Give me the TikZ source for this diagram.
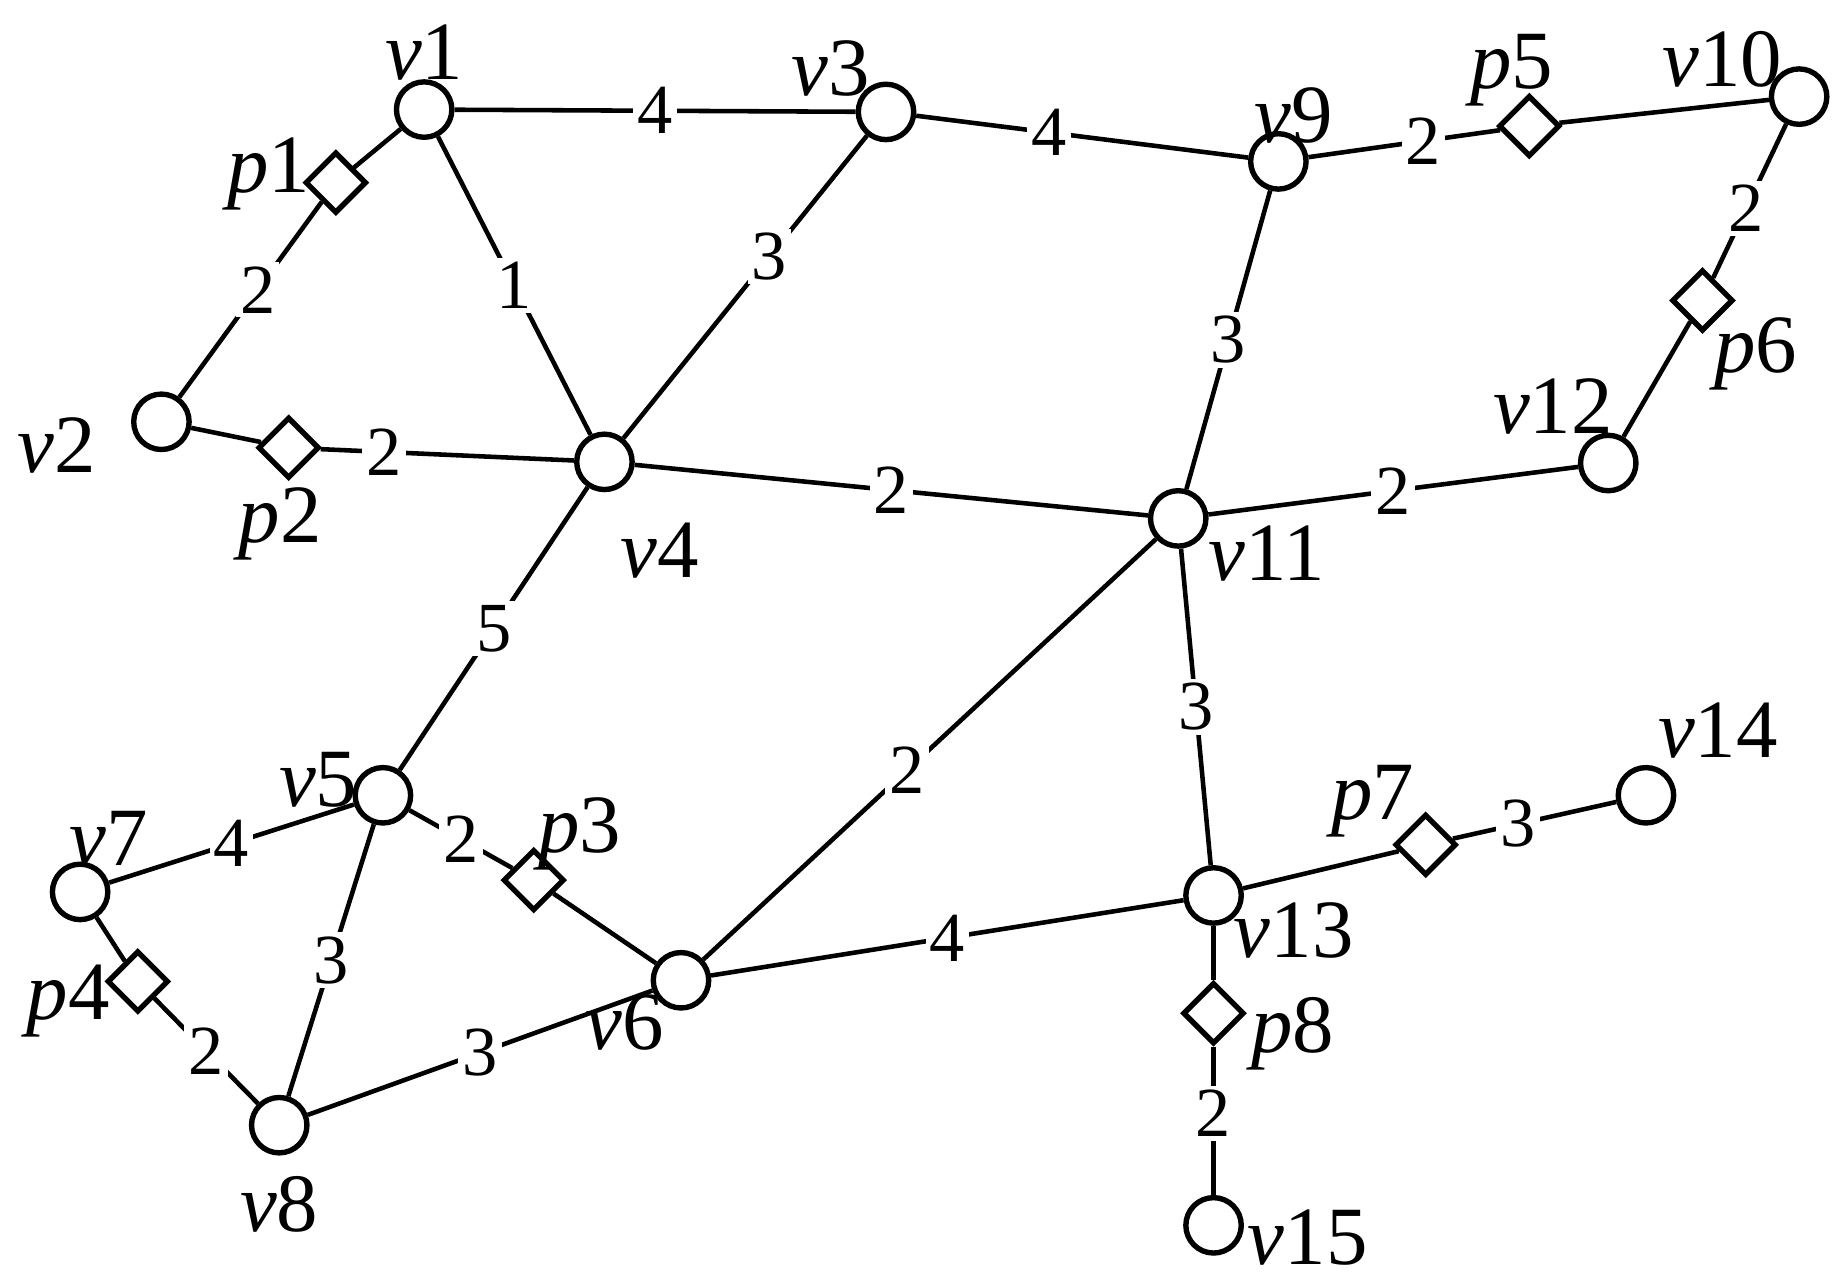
\documentclass[tikz,border=0pt]{standalone}
\usepackage{fontspec}
\setmainfont{Liberation Serif}
\usetikzlibrary{shapes.geometric}
\begin{document}
\begin{tikzpicture}[x=0.01cm,y=-0.01cm,
  vert/.style={circle,draw,line width=1.3pt,minimum size=0.47cm,inner sep=0pt,fill=white},
  pt/.style={diamond,draw,line width=1.3pt,minimum size=0.52cm,inner sep=0pt,fill=white},
  lbl/.style={font=\fontsize{20}{20}\selectfont},
  w/.style={fill=white,inner sep=1pt,font=\fontsize{17}{17}\selectfont},
  every path/.style={line width=1.1pt}]
\useasboundingbox (0,0) rectangle (1560,1085);
\node[vert] (v1) at (360,93) {}; \node[vert] (v3) at (752,95) {};
\node[vert] (v9) at (1085,137) {}; \node[vert] (v10) at (1527,82) {};
\node[pt] (p5) at (1298,107) {}; \node[pt] (p1) at (285,155) {};
\node[vert] (v2) at (137,358) {}; \node[pt] (p2) at (245,380) {};
\node[vert] (v4) at (513,392) {}; \node[vert] (v11) at (1000,440) {};
\node[vert] (v12) at (1365,393) {}; \node[pt] (p6) at (1445,255) {};
\node[vert] (v5) at (325,675) {}; \node[vert] (v7) at (68,757) {};
\node[pt] (p4) at (117,833) {}; \node[vert] (v8) at (237,955) {};
\node[pt] (p3) at (453,747) {}; \node[vert] (v6) at (578,832) {};
\node[vert] (v13) at (1030,760) {}; \node[pt] (p7) at (1210,717) {};
\node[vert] (v14) at (1397,675) {}; \node[pt] (p8) at (1030,860) {};
\node[vert] (v15) at (1030,1040) {};
\draw (v1)--node[w]{4}(v3);
\draw (v3)--node[w,pos=.4]{4}(v9);
\draw (v9)--node[w,pos=.6]{2}(p5); \draw (p5)--(v10);
\draw (v1)--(p1); \draw (p1)--node[w,pos=.45]{2}(v2);
\draw (v1)--node[w]{1}(v4);
\draw (v3)--node[w,pos=.4]{3}(v4);
\draw (v2)--(p2); \draw (p2)--node[w,pos=.25]{2}(v4);
\draw (v4)--node[w]{2}(v11);
\draw (v9)--node[w]{3}(v11);
\draw (v11)--node[w]{2}(v12);
\draw (v12)--(p6); \draw (p6)--node[w,pos=.45]{2}(v10);
\draw (v4)--node[w]{5}(v5);
\draw (v11)--node[w,pos=.55]{2}(v6);
\draw (v11)--node[w]{3}(v13);
\draw (v5)--node[w]{4}(v7);
\draw (v5)--node[w,pos=.5]{2}(p3); \draw (p3)--(v6);
\draw (v5)--node[w]{3}(v8);
\draw (v7)--(p4); \draw (p4)--node[w]{2}(v8);
\draw (v8)--node[w]{3}(v6);
\draw (v6)--node[w]{4}(v13);
\draw (v13)--(p7); \draw (p7)--node[w,pos=.4]{3}(v14);
\draw (v13)--(p8); \draw (p8)--node[w,pos=.45]{2}(v15);
\foreach \n/\x/\y/\k in {a1/360/45/1, a3/705/58/3, a9/1098/98/9, a10/1462/50/10,
  a2/48/378/2, a4/560/467/4, a11/1075/470/11, a12/1318/345/12, a5/270/662/5,
  a7/92/712/7, a8/237/1022/8, a6/530/868/6, a13/1098/790/13, a14/1458/620/14, a15/1110/1050/15}
  {\node[lbl] (\n) at (\x,\y) {\textit{v}\k};}
\foreach \n/\x/\y/\k in {b5/1283/60/5, b1/228/148/1, b2/238/445/2, b6/1490/300/6,
  b4/58/850/4, b3/492/708/3, b7/1165/680/7, b8/1097/877/8}
  {\node[lbl] (\n) at (\x,\y) {\textit{p}\k};}
\end{tikzpicture}
\end{document}
